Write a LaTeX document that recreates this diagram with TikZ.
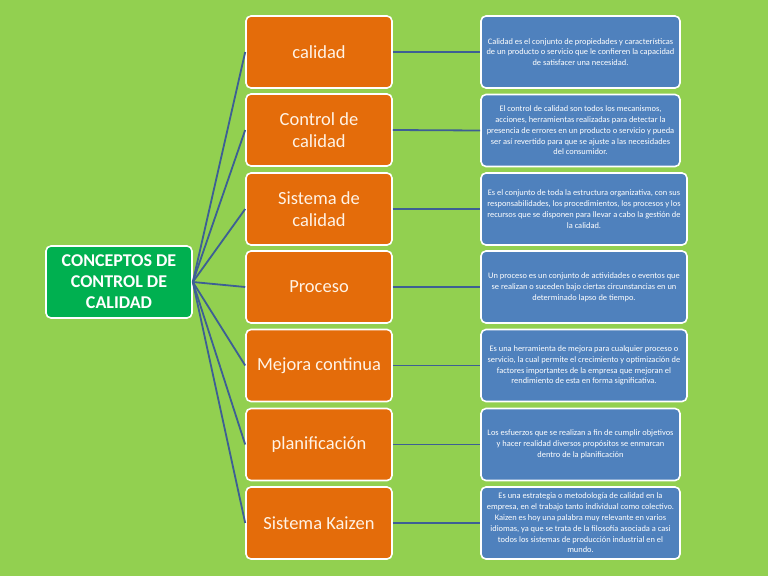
\documentclass[tikz,border=0pt]{standalone}
\usepackage{fontspec}
\setmainfont{Carlito}
\usepackage{tikz}

\definecolor{fondo}{HTML}{92D050}
\definecolor{raizverde}{HTML}{00B050}
\definecolor{naranja}{HTML}{E46C0A}
\definecolor{crema}{HTML}{FFF3E6}
\definecolor{azul}{HTML}{4F81BD}
\definecolor{enlace}{HTML}{3D5F94}

\begin{document}
\begin{tikzpicture}[x=1pt,y=-1pt,
        raiz/.style={draw=white,line width=1.6pt,rounded corners=5pt,fill=raizverde,
            text=white,align=center,minimum width=146pt,minimum height=72pt,
            font=\bfseries\fontsize{18}{21}\selectfont},
        concepto/.style={draw=white,line width=1.6pt,rounded corners=5pt,fill=naranja,
            text=crema,align=center,minimum width=146pt,minimum height=72pt,
            font=\fontsize{18.5}{21.5}\selectfont},
        definicion/.style={draw=white,line width=1.6pt,rounded corners=5pt,fill=azul,
            text=white,align=center,minimum height=72pt,inner sep=1pt,
            font=\fontsize{8.4}{10.8}\selectfont},
        corta/.style={definicion,minimum width=199pt},
        larga/.style={definicion,minimum width=206pt},
        enlace/.style={draw=enlace,line width=1.8pt}]
        \fill[fondo] (0,0) rectangle (768,576);
        \useasboundingbox (0,0) rectangle (768,576);

        % nodo central
        \node[raiz] (raiz) at (119,282) {CONCEPTOS DE\\CONTROL DE\\CALIDAD};

        % conceptos
        \node[concepto] (c1) at (319,52) {calidad};
        \node[concepto] (c2) at (319,130) {Control de\\calidad};
        \node[concepto] (c3) at (319,209) {Sistema de\\calidad};
        \node[concepto] (c4) at (319,287) {Proceso};
        \node[concepto] (c5) at (319,365.5) {Mejora continua};
        \node[concepto] (c6) at (319,444.5) {planificación};
        \node[concepto] (c7) at (319,523) {Sistema Kaizen};

        % definiciones
        \node[corta] (d1) at (580.5,52) {Calidad es el conjunto de propiedades y características\\de un producto o servicio que le confieren la capacidad\\de satisfacer una necesidad.};
        \node[corta] (d2) at (580.5,130.5) {El control de calidad son todos los mecanismos,\\acciones, herramientas realizadas para detectar la\\presencia de errores en un producto o servicio y pueda\\ser así revertido para que se ajuste a las necesidades\\del consumidor.};
        \node[larga] (d3) at (584,209) {Es el conjunto de toda la estructura organizativa, con sus\\responsabilidades, los procedimientos, los procesos y los\\recursos que se disponen para llevar a cabo la gestión de\\la calidad.};
        \node[larga] (d4) at (584,287) {Un proceso es un conjunto de actividades o eventos que\\se realizan o suceden bajo ciertas circunstancias en un\\determinado lapso de tiempo.};
        \node[larga] (d5) at (584,365.5) {Es una herramienta de mejora para cualquier proceso o\\servicio, la cual permite el crecimiento y optimización de\\factores importantes de la empresa que mejoran el\\rendimiento de esta en forma significativa.};
        \node[corta] (d6) at (580.5,444.5) {Los esfuerzos que se realizan a fin de cumplir objetivos\\y hacer realidad diversos propósitos se enmarcan\\dentro de la planificación};
        \node[corta] (d7) at (580.5,523) {Es una estrategia o metodología de calidad en la\\empresa, en el trabajo tanto individual como colectivo.\\Kaizen es hoy una palabra muy relevante en varios\\idiomas, ya que se trata de la filosofía asociada a casi\\todos los sistemas de producción industrial en el\\mundo.};

        % enlaces
        \draw[enlace] (raiz.east) -- (c1.west);
        \draw[enlace] (raiz.east) -- (c2.west);
        \draw[enlace] (raiz.east) -- (c3.west);
        \draw[enlace] (raiz.east) -- (c4.west);
        \draw[enlace] (raiz.east) -- (c5.west);
        \draw[enlace] (raiz.east) -- (c6.west);
        \draw[enlace] (raiz.east) -- (c7.west);

        \draw[enlace] (c1.east) -- (d1.west);
        \draw[enlace] (c2.east) -- (d2.west);
        \draw[enlace] (c3.east) -- (d3.west);
        \draw[enlace] (c4.east) -- (d4.west);
        \draw[enlace] (c5.east) -- (d5.west);
        \draw[enlace] (c6.east) -- (d6.west);
        \draw[enlace] (c7.east) -- (d7.west);
\end{tikzpicture}
\end{document}
